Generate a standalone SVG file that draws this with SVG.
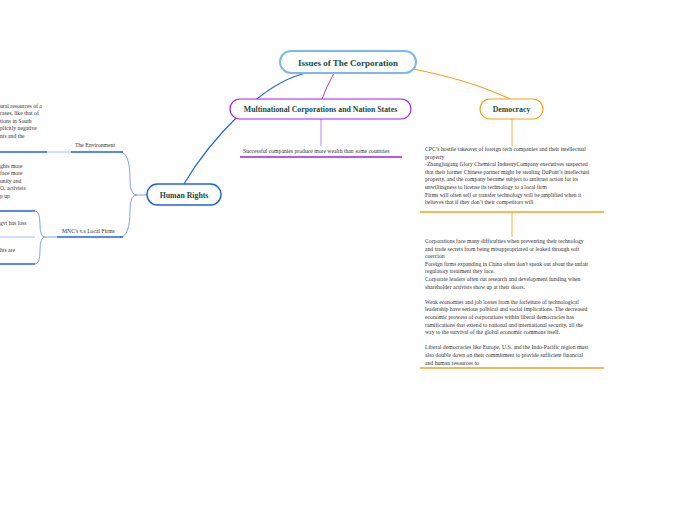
<svg xmlns="http://www.w3.org/2000/svg" width="697" height="520" viewBox="0 0 697 520">
<style>
.t{font-family:"Liberation Serif",serif;font-size:5.7px;fill:#333}
.h{font-family:"Liberation Serif",serif;font-weight:bold;fill:#1a4a3a;text-anchor:middle}
.c{fill:none}
</style>
<rect width="697" height="520" fill="#fff"/>
<g id="connectors" class="c">
<path d="M334,73 Q326,88 322,99" stroke="#a040f0" stroke-width="1"/>
<path d="M321,119 V146" stroke="#c080f0" stroke-width="1"/>
<path d="M413,69 Q470,80 510,99" stroke="#f5a020" stroke-width="1.2"/>
<path d="M512,119 V146" stroke="#f5b040" stroke-width="1"/>
<path d="M512,212 V237" stroke="#f5b040" stroke-width="1"/>
<path d="M306,73 Q275,80 240,114 Q205,148 184,184" stroke="#2060f0" stroke-width="1.2"/>
<path d="M147,195 H137 Q130,195 130,180 Q130,152 120,152 M137,195 Q130,195 130,210 Q130,237 120,237" stroke="#80a0f0" stroke-width="1"/>
<path d="M57,237 H45 Q40,237 40,225 Q40,211 35,211 M45,237 Q40,237 40,250 Q40,264 35,264" stroke="#80a0f0" stroke-width="1"/>
<path d="M0,152 H47" stroke="#2060f0" stroke-width="1.4"/>
<path d="M47,152 H71" stroke="#a0c0f0" stroke-width="1"/>
<path d="M71,152 H123" stroke="#2060f0" stroke-width="1.4"/>
<path d="M57,237 H123" stroke="#2060f0" stroke-width="1.4"/>
<path d="M0,211 H35 M0,264 H35" stroke="#2060f0" stroke-width="1.4"/>
<path d="M0,237 H35" stroke="#a0c0f0" stroke-width="1"/>
<path d="M240,157 H402" stroke="#a020f0" stroke-width="1.6"/>
<path d="M420,212 H604" stroke="#f5a020" stroke-width="1.6"/>
<path d="M420,368 H604" stroke="#f5a020" stroke-width="1.6"/>
</g>
<g id="root"><rect x="280" y="51" width="136" height="22" rx="11" fill="#fff" stroke="#80b8e8" stroke-width="2"/><text class="h" x="348" y="65.5" font-size="9">Issues of The Corporation</text></g>
<g id="mnc"><rect x="230" y="99" width="181" height="20" rx="10" fill="#fff" stroke="#a020f0" stroke-width="1.2"/><text class="h" x="320.5" y="112" font-size="7.8">Multinational Corporations and Nation  States</text></g>
<g id="democracy"><rect x="480" y="99" width="63" height="20" rx="10" fill="#fff" stroke="#f5a020" stroke-width="1.2"/><text class="h" x="511.5" y="112" font-size="7.8">Democracy</text></g>
<g id="humanrights"><rect x="147" y="184" width="74" height="21" rx="10.5" fill="#fff" stroke="#2060f0" stroke-width="1.4"/><text class="h" x="184" y="198" font-size="7.8">Human Rights</text></g>
<g id="mnc-leaf"><text class="t" x="243" y="153">Successful companies produce more wealth than some countries</text></g>
<g id="dem-leaf1"><text class="t" x="425" y="151">
<tspan x="425">CPC’s hostile takeover of foreign tech companies and their intellectual</tspan>
<tspan x="425" dy="7.6">property</tspan>
<tspan x="425" dy="7.6">-Zhangjiagang Glory Chemical IndustryCompany executives suspected</tspan>
<tspan x="425" dy="7.6">that their former Chinese partner might be stealing DuPont’s intellectual</tspan>
<tspan x="425" dy="7.6">property, and the company became subject to antitrust action for its</tspan>
<tspan x="425" dy="7.6">unwillingness to license its technology to a local firm</tspan>
<tspan x="425" dy="7.6">Firms will often sell or transfer technology will be amplified when it</tspan>
<tspan x="425" dy="7.6">believes that if they don’t their competitors will</tspan></text></g>
<g id="dem-leaf2"><text class="t" x="425" y="243">
<tspan x="425">Corporations face many difficulties when preventing their technology</tspan>
<tspan x="425" dy="7.6">and trade secrets from being misappropriated or leaked through soft</tspan>
<tspan x="425" dy="7.6">coercion</tspan>
<tspan x="425" dy="7.6">Foreign firms expanding in China often don't speak out about the unfair</tspan>
<tspan x="425" dy="7.6">regulatory treatment they face.</tspan>
<tspan x="425" dy="7.6">Corporate leaders often cut research and development funding when</tspan>
<tspan x="425" dy="7.6">shareholder activists show up at their doors.</tspan>
<tspan x="425" dy="15.2">Weak economies and job losses from the forfeiture of technological</tspan>
<tspan x="425" dy="7.6">leadership have serious political and social implications. The decreased</tspan>
<tspan x="425" dy="7.6">economic prowess of corporations within liberal democracies has</tspan>
<tspan x="425" dy="7.6">ramifications that extend to national and international security, all the</tspan>
<tspan x="425" dy="7.6">way to the survival of the global economic commons itself.</tspan>
<tspan x="425" dy="15.2">Liberal democracies like Europe, U.S. and the Indo-Pacific region must</tspan>
<tspan x="425" dy="7.6">also double down on their commitment to provide sufficient financial</tspan>
<tspan x="425" dy="7.6">and human resources to</tspan></text></g>
<g id="environment"><text class="t" x="75" y="147">The Environment</text>
<text class="t" x="0" y="108"><tspan x="0">ural resources of a</tspan><tspan x="0" dy="7.4">rases, like that of</tspan><tspan x="0" dy="7.4">tions in South</tspan><tspan x="0" dy="7.4">plicitly negative</tspan><tspan x="0" dy="7.4">nts and the</tspan></text></g>
<g id="hr-leaf"><text class="t" x="0" y="168"><tspan x="0">ghts more</tspan><tspan x="0" dy="7.4">face more</tspan><tspan x="0" dy="7.4">unity and</tspan><tspan x="0" dy="7.4">O, activists</tspan><tspan x="0" dy="7.4">p up</tspan></text></g>
<g id="local-firms"><text class="t" x="62" y="233">MNC's v.s Local Firms</text>
<text class="t" x="0" y="225">gvt has loss</text>
<text class="t" x="0" y="252">hts are</text></g>
</svg>
